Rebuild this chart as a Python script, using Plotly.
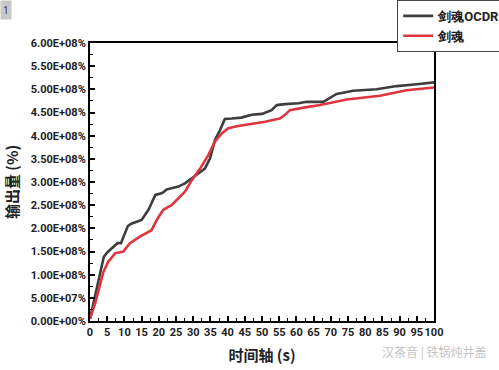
import plotly.graph_objects as go

# Data (y values in units of 1e8 %)
black_x = [0, 1, 2, 3, 4, 5, 6, 7, 8, 9, 10, 11, 12, 13, 15, 17, 19, 21, 22.3, 25.7, 27.6, 29.6, 31.5,
           33.4, 34.9, 36.3, 37.8, 39.2, 41.2, 44, 47, 50, 52.8, 54.3, 56.7, 60.6, 63, 67.8, 71.7,
           76.5, 83.3, 89.2, 95, 100]
black_y = [0.05, 0.4, 0.75, 1.1, 1.38, 1.48, 1.55, 1.62, 1.68, 1.68, 1.88, 2.05, 2.1, 2.13, 2.18, 2.4,
           2.72, 2.76, 2.84, 2.9, 2.97, 3.08, 3.19, 3.29, 3.51, 3.9, 4.12, 4.36, 4.37, 4.39, 4.45, 4.47,
           4.55, 4.66, 4.68, 4.7, 4.73, 4.73, 4.9, 4.97, 5.0, 5.07, 5.11, 5.15]
red_x = [0, 1.5, 2.9, 3.9, 5.3, 7.3, 9.7, 11.6, 14.5, 17.9, 19.4, 21.3, 23.7, 25.7, 27.6, 29.6, 32,
         34.4, 36.3, 38.3, 40.2, 43.1, 47, 50.9, 53.8, 55.2, 56.7, 58.1, 62.5, 66.9, 74.6, 84.3, 92, 100]
red_y = [0.05, 0.38, 0.78, 1.06, 1.28, 1.46, 1.5, 1.68, 1.82, 1.96, 2.18, 2.4, 2.5, 2.65, 2.79, 3.04,
         3.29, 3.58, 3.87, 4.05, 4.16, 4.21, 4.25, 4.3, 4.35, 4.37, 4.45, 4.55, 4.61, 4.66, 4.78, 4.86,
         4.98, 5.04]
series_names = ["剑魂OCDR", "剑魂"]
y_tickvals = [i * 0.5e8 for i in range(13)]
y_ticktext = ["0.00E+00%", "5.00E+07%", "1.00E+08%", "1.50E+08%", "2.00E+08%", "2.50E+08%",
              "3.00E+08%", "3.50E+08%", "4.00E+08%", "4.50E+08%", "5.00E+08%", "5.50E+08%", "6.00E+08%"]
x_tickvals = list(range(0, 101, 5))

FONT = "Roboto, DejaVu Sans Condensed, Arial"

fig = go.Figure()
fig.add_trace(go.Scatter(x=black_x, y=[v * 1e8 for v in black_y], mode="lines", name=series_names[0],
                         line=dict(color="#3d3d3d", width=2.6)))
fig.add_trace(go.Scatter(x=red_x, y=[v * 1e8 for v in red_y], mode="lines", name=series_names[1],
                         line=dict(color="#e0343f", width=2.6)))

axis_common = dict(showline=True, linecolor="black", linewidth=2, mirror=True, showgrid=False,
                   zeroline=False, ticks="inside", ticklen=5, tickwidth=1.5, tickcolor="black",
                   tickfont=dict(family=FONT, size=11, color="#222", weight="bold"))

fig.update_xaxes(range=[0, 100], tickvals=x_tickvals, tickangle=0, **axis_common,
                 minor=dict(ticks="inside", ticklen=3, tickwidth=1, tickcolor="black", dtick=2.5),
                 title=dict(text="<b>时间轴 (s)</b>", font=dict(family="Noto Sans CJK SC", size=15, color="#222"),
                            standoff=12))
fig.update_yaxes(range=[0, 6e8], tickvals=y_tickvals, ticktext=y_ticktext, **axis_common,
                 minor=dict(ticks="inside", ticklen=3, tickwidth=1, tickcolor="black", dtick=0.25e8, tick0=0),
                 title=dict(text="<b>输出量 (%)</b>", font=dict(family="Noto Sans CJK SC", size=15, color="#222"),
                            standoff=8))

fig.update_layout(
    width=499, height=370,
    margin=dict(l=90, r=65, t=43, b=49, autoexpand=False),
    paper_bgcolor="white", plot_bgcolor="white",
    showlegend=True,
    legend=dict(x=0.893, y=1.155, xanchor="left", yanchor="top",
                bordercolor="#444", borderwidth=1, bgcolor="white",
                font=dict(family=FONT, size=13, color="#222", weight="bold"), tracegroupgap=0, itemwidth=30),
    annotations=[
        dict(text="1", x=0, y=1, xref="paper", yref="paper", xanchor="left", yanchor="top",
             xshift=-90, yshift=43, showarrow=False, bgcolor="#c8c8c8",
             font=dict(size=10, color="#333"), borderpad=2),
        dict(text="汉茶音 | 铁锅炖井盖", x=1, y=0, xref="paper", yref="paper", xanchor="right", yanchor="top",
             xshift=55, yshift=-20, showarrow=False,
             font=dict(family="Noto Sans CJK SC", size=12, color="#c4c4c4")),
    ],
)

fig.write_html("out.html", config={"displayModeBar": False},
               post_script="document.body.style.margin='0';document.body.style.padding='0';")
